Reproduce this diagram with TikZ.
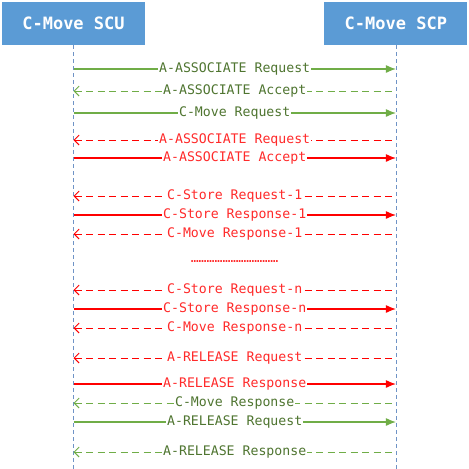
\documentclass[tikz,border=0pt]{standalone}
\usepackage{fontspec}
\setmonofont{DejaVu Sans Mono}
\usepackage{tikz}
\usetikzlibrary{positioning, arrows.meta}

\definecolor{headblue}{HTML}{5B9BD5}
\definecolor{lifeblue}{HTML}{6F93C6}
\definecolor{msggreen}{HTML}{70AD47}
\definecolor{txtgreen}{HTML}{4F7530}
\definecolor{msgred}{HTML}{FF0000}
\definecolor{txtred}{HTML}{FF2A2A}

\begin{document}
\begin{tikzpicture}[x=1pt, y=-1pt,
head/.style={rectangle, fill=headblue, text=white, minimum width=143pt, minimum height=43pt, font=\fontsize{17}{20}\selectfont\ttfamily\bfseries},
life/.style={draw=lifeblue, line width=0.7pt, dash pattern=on 4pt off 3pt},
lbl/.style={fill=white, inner sep=1pt, font=\fontsize{13.2}{15}\selectfont\ttfamily},
gcall/.style={draw=msggreen, line width=1.1pt, -{Latex[length=10pt, width=8pt]}},
greply/.style={draw=msggreen, line width=0.9pt, dash pattern=on 7pt off 4.5pt, {Straight Barb[length=5pt, width=10pt]}-},
rcall/.style={draw=msgred, line width=1.1pt, -{Latex[length=10pt, width=8pt]}},
rreply/.style={draw=msgred, line width=0.9pt, dash pattern=on 7pt off 4.5pt, {Straight Barb[length=5pt, width=10pt]}-},
glbl/.style={lbl, text=txtgreen},
rlbl/.style={lbl, text=txtred} ]
\useasboundingbox (0,0) rectangle (469,469);

\node (scu) [head] at (73.5,23.5) {C-Move SCU};
\node (scp) [head, right = 179pt of scu] {C-Move SCP};
\coordinate (scuend) at (scu |- 0,469);
\coordinate (scpend) at (scp |- 0,469);

\coordinate (u1) at (scu |- 0,69);   \coordinate (p1) at (scp |- 0,69);
\coordinate (u2) at (scu |- 0,91);   \coordinate (p2) at (scp |- 0,91);
\coordinate (u3) at (scu |- 0,113);  \coordinate (p3) at (scp |- 0,113);
\coordinate (u4) at (scu |- 0,140);  \coordinate (p4) at (scp |- 0,140);
\coordinate (u5) at (scu |- 0,158);  \coordinate (p5) at (scp |- 0,158);
\coordinate (u6) at (scu |- 0,196);  \coordinate (p6) at (scp |- 0,196);
\coordinate (u7) at (scu |- 0,215);  \coordinate (p7) at (scp |- 0,215);
\coordinate (u8) at (scu |- 0,234);  \coordinate (p8) at (scp |- 0,234);
\coordinate (u10) at (scu |- 0,290); \coordinate (p10) at (scp |- 0,290);
\coordinate (u11) at (scu |- 0,309); \coordinate (p11) at (scp |- 0,309);
\coordinate (u12) at (scu |- 0,328); \coordinate (p12) at (scp |- 0,328);
\coordinate (u13) at (scu |- 0,358); \coordinate (p13) at (scp |- 0,358);
\coordinate (u14) at (scu |- 0,384); \coordinate (p14) at (scp |- 0,384);
\coordinate (u15) at (scu |- 0,403); \coordinate (p15) at (scp |- 0,403);
\coordinate (u16) at (scu |- 0,422); \coordinate (p16) at (scp |- 0,422);
\coordinate (u17) at (scu |- 0,452); \coordinate (p17) at (scp |- 0,452);

\path (scu) edge[life] (scuend);
\path (scp) edge[life] (scpend);

\path (u1) edge[gcall] node[glbl] {A-ASSOCIATE Request} (p1);
\path (u2) edge[greply] node[glbl] {A-ASSOCIATE Accept} (p2);
\path (u3) edge[gcall] node[glbl] {C-Move Request} (p3);

\path (u4) edge[rreply] node[rlbl] {A-ASSOCIATE Request} (p4);
\path (u5) edge[rcall] node[rlbl] {A-ASSOCIATE Accept} (p5);
\path (u6) edge[rreply] node[rlbl] {C-Store Request-1} (p6);
\path (u7) edge[rcall] node[rlbl] {C-Store Response-1} (p7);
\path (u8) edge[rreply] node[rlbl] {C-Move Response-1} (p8);

\node (dots) [rlbl] at (234.5,262) {……………………………};

\path (u10) edge[rreply] node[rlbl] {C-Store Request-n} (p10);
\path (u11) edge[rcall] node[rlbl] {C-Store Response-n} (p11);
\path (u12) edge[rreply] node[rlbl] {C-Move Response-n} (p12);
\path (u13) edge[rreply] node[rlbl] {A-RELEASE Request} (p13);
\path (u14) edge[rcall] node[rlbl] {A-RELEASE Response} (p14);

\path (u15) edge[greply] node[glbl] {C-Move Response} (p15);
\path (u16) edge[gcall] node[glbl] {A-RELEASE Request} (p16);
\path (u17) edge[greply] node[glbl] {A-RELEASE Response} (p17);

\end{tikzpicture}
\end{document}
